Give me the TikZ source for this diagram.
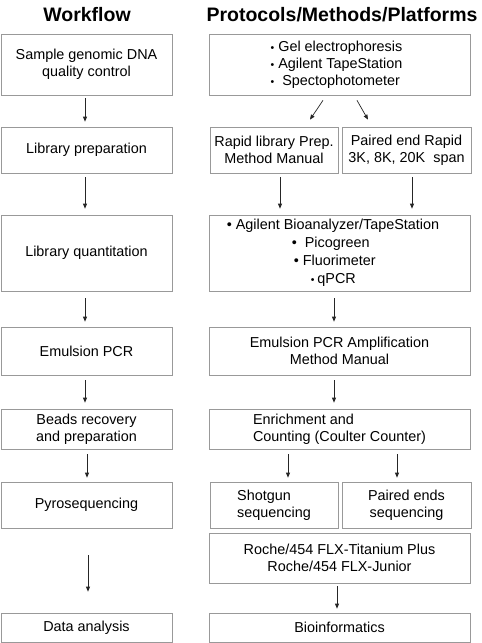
\documentclass[tikz,border=0pt]{standalone}
\usepackage{fontspec}
\setmainfont{Liberation Sans}
\usetikzlibrary{arrows.meta}
\newcommand{\sbul}{{\fontsize{10.5}{10}\selectfont\textbullet}}
\newcommand{\bbul}{\textbullet}
\begin{document}
\begin{tikzpicture}[x=1pt,y=-1pt,
  box/.style={draw=black!40, line width=0.7pt, rectangle, inner sep=0pt,
    font=\fontsize{14.4}{17}\selectfont, align=center},
  ttl/.style={font=\fontsize{19.5}{22}\selectfont\bfseries, inner sep=0pt},
  arr/.style={draw=black!85, line width=0.7pt, -{Triangle[length=5pt,width=4pt]}}
]
\useasboundingbox (0,0) rectangle (482,643);
% titles
\node[ttl] (t1) at (87,15) {Workflow};
\node[ttl] (t2) at (342,15) {Protocols/Methods/Platforms};
% left column
\node[box, minimum width=171, minimum height=61] (L1) at (86.5,64.5) {Sample genomic DNA\\quality control};
\node[box, minimum width=171, minimum height=46] (L2) at (86.5,150) {Library preparation};
\node[box, minimum width=171, minimum height=76] (L3) at (86.5,253) {Library quantitation};
\node[box, minimum width=171, minimum height=48] (L4) at (86.5,351) {Emulsion PCR};
\node[box, minimum width=171, minimum height=40] (L5) at (86.5,429) {Beads recovery\\and preparation};
\node[box, minimum width=171, minimum height=46] (L6) at (86.5,505) {Pyrosequencing};
\node[box, minimum width=171, minimum height=29] (L7) at (86.5,627.5) {Data analysis};
% right column
\node[box, minimum width=261, minimum height=61, align=left] (R1) at (339.5,64.5)
  {\sbul\hspace{4pt}Gel electrophoresis\hspace*{6pt}\\
   \sbul\hspace{4pt}Agilent TapeStation\\
   \sbul\hspace{8pt}Spectophotometer};
\node[box, minimum width=128, minimum height=46] (R2a) at (274,150) {Rapid library Prep.\\Method Manual};
\node[box, minimum width=129, minimum height=46] (R2b) at (406.5,150) {Paired end Rapid\\3K, 8K, 20K\ \ span};
\node[box, minimum width=261, minimum height=76, align=left, font=\fontsize{14.4}{18}\selectfont] (R3) at (339.5,253)
  {\bbul\ Agilent Bioanalyzer/TapeStation\hspace*{13pt}\\
   \hspace*{65pt}\bbul\ \ Picogreen\\
   \hspace*{67pt}\bbul\ Fluorimeter\\
   \hspace*{84pt}\sbul\hspace{3pt}qPCR};
\node[box, minimum width=261, minimum height=48] (R4) at (339.5,351) {Emulsion PCR Amplification\\Method Manual};
\node[box, minimum width=261, minimum height=40, align=left] (R5) at (339.5,429) {Enrichment and\\Counting (Coulter Counter)};
\node[box, minimum width=128, minimum height=46, align=left] (R6a) at (274,505) {Shotgun\\sequencing};
\node[box, minimum width=129, minimum height=46] (R6b) at (406.5,505) {Paired ends\\sequencing};
\node[box, minimum width=261, minimum height=50] (R7) at (339.5,558) {Roche/454 FLX-Titanium Plus\\Roche/454 FLX-Junior};
\node[box, minimum width=261, minimum height=29] (R8) at (339.5,627.5) {Bioinformatics};
% left arrows
\draw[arr] ([xshift=-1.5pt,yshift=-3pt]L1.south) -- ([xshift=-1.5pt,yshift=5pt]L2.north);
\draw[arr] ([xshift=-1.5pt,yshift=-4pt]L2.south) -- ([xshift=-1.5pt,yshift=6pt]L3.north);
\draw[arr] ([xshift=-1.5pt,yshift=-7pt]L3.south) -- ([xshift=-1.5pt,yshift=5pt]L4.north);
\draw[arr] ([xshift=-1.5pt,yshift=-5pt]L4.south) -- ([xshift=-1.5pt,yshift=6pt]L5.north);
\draw[arr] ([xshift=0.5pt,yshift=-5pt]L5.south) -- ([xshift=0.5pt,yshift=4pt]L6.north);
\draw[arr] ([xshift=1.5pt,yshift=-27pt]L6.south) -- ([xshift=1.5pt,yshift=21pt]L7.north);
% right arrows
\draw[arr] ([xshift=-16.5pt,yshift=-5pt]R1.south) -- ([xshift=36pt,yshift=7pt]R2a.north);
\draw[arr] ([xshift=17.5pt,yshift=-5pt]R1.south) -- ([xshift=-38.5pt,yshift=7pt]R2b.north);
\draw[arr] ([xshift=6pt,yshift=-4pt]R2a.south) -- ([xshift=6pt,yshift=6pt]R2a.south |- R3.north);
\draw[arr] ([xshift=5.5pt,yshift=-4pt]R2b.south) -- ([xshift=5.5pt,yshift=6pt]R2b.south |- R3.north);
\draw[arr] ([xshift=-5.5pt,yshift=-7pt]R3.south) -- ([xshift=-5.5pt,yshift=5pt]R4.north);
\draw[arr] ([xshift=-5.5pt,yshift=-5pt]R4.south) -- ([xshift=-5.5pt,yshift=6pt]R5.north);
\draw[arr] ([xshift=-51.5pt,yshift=-5pt]R5.south) -- ([xshift=14pt,yshift=4pt]R6a.north);
\draw[arr] ([xshift=57.5pt,yshift=-5pt]R5.south) -- ([xshift=-9.5pt,yshift=4pt]R6b.north);
\draw[arr] ([xshift=-2.5pt,yshift=-3pt]R7.south) -- ([xshift=-2.5pt,yshift=4pt]R8.north);
\end{tikzpicture}
\end{document}
